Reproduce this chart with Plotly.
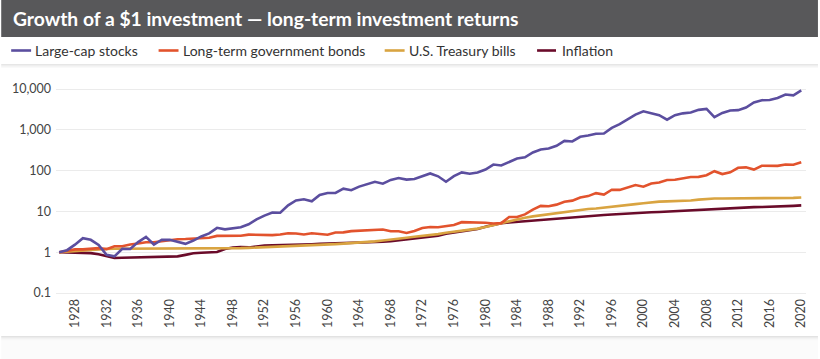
import plotly.graph_objects as go

years = list(range(1926, 2021))

large_cap_stocks = [
    1.00, 1.12, 1.53, 2.20, 2.01, 1.51, 0.86, 0.79, 1.21, 1.20,
    1.77, 2.37, 1.54, 2.02, 2.01, 1.81, 1.60, 1.93, 2.43, 2.90,
    3.96, 3.64, 3.85, 4.07, 4.83, 6.37, 7.89, 9.34, 9.25, 14.12,
    18.58, 19.80, 17.66, 25.32, 28.35, 28.48, 36.14, 32.98, 40.49, 47.17,
    53.04, 47.70, 59.14, 65.68, 60.10, 62.50, 71.44, 84.99, 72.53, 53.34,
    73.18, 90.58, 84.08, 89.59, 106.11, 140.51, 133.62, 162.22, 198.74, 211.19,
    279.11, 330.67, 348.08, 406.04, 534.45, 517.50, 675.59, 727.41, 800.08, 810.54,
    1113.92, 1370.95, 1828.33, 2350.89, 2845.63, 2586.52, 2279.13, 1775.34, 2284.79, 2533.20,
    2657.56, 3077.33, 3246.39, 2045.34, 2586.56, 2976.22, 3039.07, 3525.71, 4667.60, 5306.13,
    5379.62, 6023.33, 7338.45, 7016.97, 9226.54,
]

long_term_gov_bonds = [
    1.00, 1.08, 1.17, 1.17, 1.21, 1.26, 1.19, 1.40, 1.40, 1.55,
    1.63, 1.75, 1.76, 1.86, 1.97, 2.08, 2.10, 2.16, 2.21, 2.27,
    2.51, 2.50, 2.44, 2.53, 2.69, 2.68, 2.58, 2.62, 2.71, 2.91,
    2.87, 2.71, 2.91, 2.73, 2.67, 3.04, 3.07, 3.28, 3.33, 3.45,
    3.47, 3.60, 3.27, 3.26, 2.96, 3.32, 3.91, 4.13, 4.09, 4.27,
    4.65, 5.45, 5.41, 5.35, 5.28, 5.07, 5.16, 7.27, 7.32, 8.43,
    11.03, 13.70, 13.34, 14.65, 17.30, 18.38, 21.93, 23.72, 28.05, 25.86,
    34.06, 33.72, 39.08, 44.21, 40.23, 48.34, 50.87, 58.62, 59.67, 64.64,
    69.44, 70.20, 76.92, 96.82, 82.17, 90.75, 117.22, 120.28, 105.75, 131.55,
    129.13, 130.74, 141.48, 139.01, 159.70,
]

treasury_bills = [
    1.00, 1.03, 1.07, 1.10, 1.16, 1.19, 1.20, 1.21, 1.21, 1.21,
    1.21, 1.21, 1.21, 1.21, 1.21, 1.21, 1.21, 1.21, 1.22, 1.22,
    1.23, 1.24, 1.25, 1.26, 1.28, 1.30, 1.32, 1.34, 1.37, 1.38,
    1.40, 1.43, 1.48, 1.50, 1.54, 1.58, 1.62, 1.66, 1.71, 1.77,
    1.84, 1.93, 2.01, 2.11, 2.25, 2.39, 2.49, 2.59, 2.78, 3.00,
    3.18, 3.34, 3.52, 3.78, 4.16, 4.63, 5.32, 5.88, 6.39, 7.02,
    7.56, 8.03, 8.46, 8.99, 9.74, 10.49, 11.07, 11.46, 11.80, 12.29,
    12.97, 13.64, 14.35, 15.07, 15.78, 16.71, 17.35, 17.63, 17.81, 18.03,
    18.58, 19.45, 20.38, 20.68, 20.71, 20.73, 20.75, 20.77, 20.78, 20.79,
    20.80, 20.86, 21.05, 21.44, 21.89,
]

inflation = [
    1.00, 0.99, 0.96, 0.95, 0.95, 0.89, 0.80, 0.72, 0.73, 0.74,
    0.76, 0.77, 0.79, 0.78, 0.78, 0.79, 0.86, 0.94, 0.97, 0.99,
    1.01, 1.20, 1.30, 1.33, 1.31, 1.38, 1.46, 1.47, 1.48, 1.48,
    1.49, 1.53, 1.57, 1.60, 1.62, 1.64, 1.65, 1.67, 1.70, 1.72,
    1.75, 1.81, 1.86, 1.95, 2.07, 2.18, 2.25, 2.33, 2.54, 2.85,
    3.05, 3.20, 3.41, 3.71, 4.20, 4.73, 5.15, 5.34, 5.55, 5.77,
    5.98, 6.05, 6.31, 6.58, 6.89, 7.31, 7.53, 7.75, 7.96, 8.17,
    8.38, 8.66, 8.81, 8.95, 9.19, 9.51, 9.66, 9.89, 10.07, 10.39,
    10.75, 11.02, 11.48, 11.49, 11.80, 11.97, 12.32, 12.53, 12.72, 12.80,
    12.89, 13.16, 13.44, 13.70, 14.02,
]

series_names = ["Large-cap stocks", "Long-term government bonds", "U.S. Treasury bills", "Inflation"]
series_values = [large_cap_stocks, long_term_gov_bonds, treasury_bills, inflation]
series_colors = ["#5b4e9f", "#e2532d", "#d9a441", "#6a0b2a"]

x_tick_vals = list(range(1928, 2021, 4))
x_tick_text = [str(v) for v in x_tick_vals]
y_tick_vals = [0.1, 1, 10, 100, 1000, 10000]
y_tick_text = ["0.1", "1", "10", "100", "1,000", "10,000"]

title_text = "Growth of a $1 investment \u2014 long-term investment returns"

W, H = 820, 359
ML, MR, MT, MB = 55, 12, 70, 66
PW = W - ML - MR
PH = H - MT - MB


def px_x(px):
    return (px - ML) / PW


def px_y(py):
    return (H - MB - py) / PH


fig = go.Figure()
for name, vals, col in reversed(list(zip(series_names, series_values, series_colors))):
    fig.add_trace(go.Scatter(x=years, y=vals, mode="lines", name=name,
                             line=dict(color=col, width=2.6), showlegend=False,
                             hoverinfo="skip"))

shapes = []
# title bar
shapes.append(dict(type="rect", xref="paper", yref="paper",
                   x0=px_x(0), x1=px_x(W), y0=px_y(37), y1=px_y(0),
                   fillcolor="#58585a", line=dict(width=0), layer="below"))
# shadow under legend row
for i, c in enumerate(["#e6e6e6", "#eeeeee", "#f4f4f4", "#f9f9f9"]):
    shapes.append(dict(type="rect", xref="paper", yref="paper",
                       x0=px_x(0), x1=px_x(W), y0=px_y(64 + i + 1), y1=px_y(64 + i),
                       fillcolor=c, line=dict(width=0), layer="below"))
# bottom shadow
for i, c in enumerate(["#e2e2e2", "#ebebeb", "#f2f2f2", "#f7f7f7", "#fafafa"]):
    shapes.append(dict(type="rect", xref="paper", yref="paper",
                       x0=px_x(0), x1=px_x(W), y0=px_y(336 + i + 1), y1=px_y(336 + i),
                       fillcolor=c, line=dict(width=0), layer="below"))
shapes.append(dict(type="rect", xref="paper", yref="paper",
                   x0=px_x(0), x1=px_x(W), y0=px_y(H), y1=px_y(341),
                   fillcolor="#fbfbfb", line=dict(width=0), layer="below"))

annotations = [dict(text=title_text, xref="paper", yref="paper",
                    x=px_x(10), y=px_y(18.5), xanchor="left", yanchor="middle",
                    showarrow=False,
                    font=dict(family="Lato", size=19.3, color="white", weight=700))]

legend_pos = [(10, 30, 32), (158, 178, 181), (385, 405, 407), (538, 557, 561)]
for (l0, l1, tx), name, col in zip(legend_pos, series_names, series_colors):
    shapes.append(dict(type="line", xref="paper", yref="paper",
                       x0=px_x(l0), x1=px_x(l1), y0=px_y(50.5), y1=px_y(50.5),
                       line=dict(color=col, width=2.6)))
    annotations.append(dict(text=name, xref="paper", yref="paper",
                            x=px_x(tx), y=px_y(50.5), xanchor="left", yanchor="middle",
                            showarrow=False,
                            font=dict(family="Lato", size=14, color="#333333")))

fig.update_layout(
    width=W, height=H,
    margin=dict(l=ML, r=MR, t=MT, b=MB),
    paper_bgcolor="white", plot_bgcolor="white",
    shapes=shapes, annotations=annotations,
    font=dict(family="Lato", color="#444444"),
    xaxis=dict(range=[1925.6, 2020.6], tickvals=x_tick_vals, ticktext=x_tick_text,
               tickangle=-90, showgrid=False, zeroline=False,
               showline=True, linecolor="#ececec", linewidth=1,
               tickfont=dict(family="Lato", size=12.5, color="#444444"),
               ticks=""),
    yaxis=dict(type="log", range=[-1, 4.466], tickvals=y_tick_vals, ticktext=y_tick_text,
               showgrid=True, gridcolor="#ebebeb", gridwidth=1, zeroline=False,
               tickfont=dict(family="Lato", size=12.5, color="#444444"),
               ticks="", ticklabelstandoff=4),
)

fig.write_html("out.html", config={"displayModeBar": False},
               post_script="document.body.style.margin='0';document.body.style.overflow='hidden';")
